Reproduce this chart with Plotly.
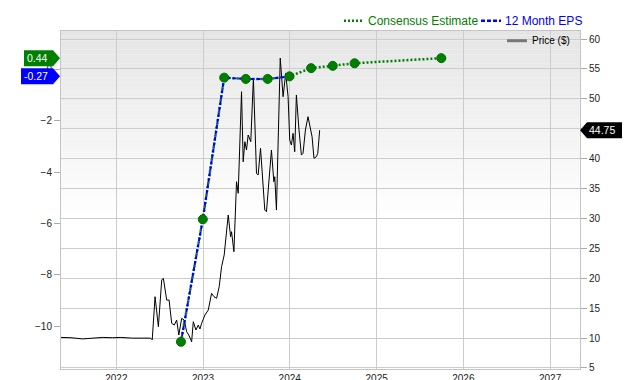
import plotly.graph_objects as go

# ---------------- data ----------------
eps_dates = ["2022-09-30", "2022-12-31", "2023-03-31", "2023-06-30", "2023-09-30", "2023-12-31"]
eps_values = [-10.61, -5.84, -0.32, -0.37, -0.37, -0.27]

cons_dates = eps_dates + ["2024-03-31", "2024-06-30", "2024-09-30", "2025-09-30"]
cons_values = eps_values + [0.05, 0.14, 0.24, 0.44]

price_dates = [
    "2021-05-13", "2021-06-24", "2021-08-12", "2021-09-20", "2021-11-05", "2021-12-15",
    "2022-01-20", "2022-03-10", "2022-04-20", "2022-05-25", "2022-06-01",
    "2022-06-13", "2022-06-27", "2022-07-11", "2022-07-18", "2022-08-01", "2022-08-11",
    "2022-08-22", "2022-09-02", "2022-09-12", "2022-09-21", "2022-10-03", "2022-10-14",
    "2022-10-24", "2022-11-02", "2022-11-14", "2022-11-21", "2022-12-02", "2022-12-12",
    "2022-12-19", "2022-12-26", "2023-01-09", "2023-01-23", "2023-02-06", "2023-02-16",
    "2023-02-27", "2023-03-10", "2023-03-20", "2023-03-31", "2023-04-17", "2023-04-27",
    "2023-05-01", "2023-05-11", "2023-05-22", "2023-05-29", "2023-06-12", "2023-06-19",
    "2023-06-26", "2023-07-03", "2023-07-10", "2023-07-21", "2023-08-01", "2023-08-14",
    "2023-08-21", "2023-08-31", "2023-09-11", "2023-09-18", "2023-09-25", "2023-10-02",
    "2023-10-16", "2023-10-26", "2023-10-30", "2023-11-06", "2023-11-22", "2023-12-04",
    "2023-12-15", "2023-12-25", "2024-01-01", "2024-01-08", "2024-01-15", "2024-01-22",
    "2024-01-29", "2024-02-09", "2024-02-19", "2024-02-26", "2024-03-07", "2024-03-18",
    "2024-03-28", "2024-04-04", "2024-04-12", "2024-04-22", "2024-04-28", "2024-05-06",
]
price_values = [
    10.1, 10.05, 9.85, 9.95, 10.1, 10.05,
    10.1, 9.98, 10.0, 9.98, 9.7,
    16.91, 11.89, 19.70, 19.98, 16.35, 16.35,
    12.46, 12.17, 13.01, 10.50, 13.29, 13.01,
    11.05, 10.50, 9.38, 12.73, 11.34, 12.17,
    11.51, 12.46, 13.85, 14.68, 17.47, 16.91,
    16.64, 18.58, 21.92, 23.88, 30.57, 26.94,
    27.78, 24.43, 36.14, 34.20, 51.19, 39.48,
    42.83, 41.44, 43.95, 42.83, 53.48, 37.54,
    37.26, 41.72, 34.20, 31.40, 31.12, 34.20,
    41.44, 36.14, 36.97, 31.40, 56.80, 50.35,
    54.26, 50.35, 43.11, 42.27, 44.23, 41.15,
    50.64, 44.78, 40.60, 40.89, 44.78, 47.01,
    45.33, 43.66, 40.05, 40.32, 40.89, 44.75,
]

legend_labels = ["Consensus Estimate", "12 Month EPS", "Price ($)"]

# ---------------- styling ----------------
W, H = 640, 380
L, R, T, B = 61, 60, 31, 11
FONT = "Liberation Sans, Arial, sans-serif"
GREEN = "#008000"
BLUE = "#0000ff"
GRID = "#cccccc"


def px_x(x):
    return (x - L) / (W - L - R)


def px_y(y):
    return (H - B - y) / (H - T - B)


fig = go.Figure()

# price on main (right-side) axis
fig.add_trace(go.Scatter(
    x=price_dates, y=price_values, mode="lines", yaxis="y",
    line=dict(color="#000000", width=1), showlegend=False, hoverinfo="skip",
))
# consensus estimate (green dotted)
fig.add_trace(go.Scatter(
    x=cons_dates, y=cons_values, mode="lines", yaxis="y2",
    line=dict(color=GREEN, width=2.5, dash="2px,2px"), showlegend=False,
))
# 12 month EPS (blue dashed)
fig.add_trace(go.Scatter(
    x=eps_dates, y=eps_values, mode="lines", yaxis="y2",
    line=dict(color=BLUE, width=2, dash="4px,2px"), showlegend=False,
))
# markers
fig.add_trace(go.Scatter(
    x=cons_dates, y=cons_values, mode="markers", yaxis="y2",
    marker=dict(color=GREEN, size=9, line=dict(color="#006a00", width=1)),
    showlegend=False,
))

shapes = []
# background gradient (top grey to white)
n = 40
g_top, g_bot = px_y(T), px_y(218)
for i in range(n):
    y0 = g_top - (g_top - g_bot) * i / n
    y1 = g_top - (g_top - g_bot) * (i + 1) / n
    c = int(round(229 + (255 - 229) * (i + 0.5) / n))
    shapes.append(dict(type="rect", xref="paper", yref="paper", x0=0, x1=1, y0=y1, y1=y0,
                       fillcolor=f"rgb({c},{c},{c})", line=dict(width=0), layer="below"))

# value tags
shapes.append(dict(type="path", xref="paper", yref="y2", xsizemode="pixel", ysizemode="pixel",
                   xanchor=0, yanchor=cons_values[-1],
                   path="M-1,0 L-8,8 L-37,8 L-37,-8 L-8,-8 Z",
                   fillcolor=GREEN, line=dict(width=0), layer="above"))
shapes.append(dict(type="path", xref="paper", yref="y2", xsizemode="pixel", ysizemode="pixel",
                   xanchor=0, yanchor=eps_values[-1],
                   path="M-1,0 L-8,8 L-40,8 L-40,-8 L-8,-8 Z",
                   fillcolor=BLUE, line=dict(width=0), layer="above"))
shapes.append(dict(type="path", xref="paper", yref="y", xsizemode="pixel", ysizemode="pixel",
                   xanchor=1, yanchor=price_values[-1],
                   path="M0,0 L7,8 L42,8 L42,-8 L7,-8 Z",
                   fillcolor="#000000", line=dict(width=0), layer="above"))

# legend symbols
ly = px_y(20.7)
shapes.append(dict(type="line", xref="paper", yref="paper", x0=px_x(344), x1=px_x(362), y0=ly, y1=ly,
                   line=dict(color=GREEN, width=2.5, dash="2px,2px")))
shapes.append(dict(type="line", xref="paper", yref="paper", x0=px_x(481), x1=px_x(501), y0=ly, y1=ly,
                   line=dict(color=BLUE, width=2.5, dash="4px,2px")))
pl = px_y(40.7)
shapes.append(dict(type="line", xref="paper", yref="paper", x0=px_x(507), x1=px_x(527), y0=pl, y1=pl,
                   line=dict(color="#777777", width=3)))

annotations = [
    dict(xref="paper", yref="y2", x=0, y=cons_values[-1], xanchor="right", yanchor="middle",
         xshift=-13, text=f"{cons_values[-1]:.2f}", showarrow=False, borderpad=0, borderwidth=0,
         font=dict(family=FONT, size=10.5, color="#ffffff")),
    dict(xref="paper", yref="y2", x=0, y=eps_values[-1], xanchor="right", yanchor="middle",
         xshift=-13, text=f"{eps_values[-1]:.2f}", showarrow=False, borderpad=0, borderwidth=0,
         font=dict(family=FONT, size=10.5, color="#ffffff")),
    dict(xref="paper", yref="y", x=1, y=price_values[-1], xanchor="left", yanchor="middle",
         xshift=9, text=f"{price_values[-1]:.2f}", showarrow=False, borderpad=0, borderwidth=0,
         font=dict(family=FONT, size=10.5, color="#ffffff")),
    dict(xref="paper", yref="paper", x=px_x(367.5), y=ly, xanchor="left", yanchor="middle",
         text=legend_labels[0], showarrow=False, borderpad=0, borderwidth=0,
         font=dict(family=FONT, size=12, color=GREEN)),
    dict(xref="paper", yref="paper", x=px_x(505), y=ly, xanchor="left", yanchor="middle",
         text=legend_labels[1], showarrow=False, borderpad=0, borderwidth=0,
         font=dict(family=FONT, size=12, color=BLUE)),
    dict(xref="paper", yref="paper", x=px_x(532), y=pl, xanchor="left", yanchor="middle",
         text=legend_labels[2], showarrow=False, borderpad=0, borderwidth=0,
         font=dict(family=FONT, size=10, color="#000000")),
]

fig.update_layout(
    width=W, height=H,
    margin=dict(l=L, r=R, t=T, b=B, pad=0),
    paper_bgcolor="#ffffff", plot_bgcolor="#ffffff",
    font=dict(family=FONT, size=10, color="#222222"),
    showlegend=False,
    shapes=shapes, annotations=annotations,
    xaxis=dict(
        type="date", range=["2021-05-13", "2027-05-07"],
        tick0="2022-01-01", dtick="M12", tickformat="%Y",
        showgrid=True, gridcolor=GRID, gridwidth=1,
        showline=True, linecolor="#c4c4c4", mirror=True,
        ticks="", zeroline=False, automargin=False,
        tickfont=dict(family=FONT, size=10, color="#222222"),
    ),
    yaxis=dict(
        side="right", range=[4.82, 61.34], tick0=0, dtick=5,
        showgrid=True, gridcolor=GRID, gridwidth=1,
        showline=True, linecolor="#c4c4c4", mirror=True,
        ticks="outside", ticklen=6, tickcolor="#aaaaaa",
        zeroline=False, automargin=False,
        tickfont=dict(family=FONT, size=10, color="#222222"),
    ),
    yaxis2=dict(
        overlaying="y", side="left", range=[-11.67, 1.497], tick0=0, dtick=2,
        showgrid=False, zeroline=False, showline=False,
        ticks="outside", ticklen=6, tickcolor="#aaaaaa", automargin=False,
        tickfont=dict(family=FONT, size=10, color="#222222"),
    ),
)

fig.write_html("out.html")
